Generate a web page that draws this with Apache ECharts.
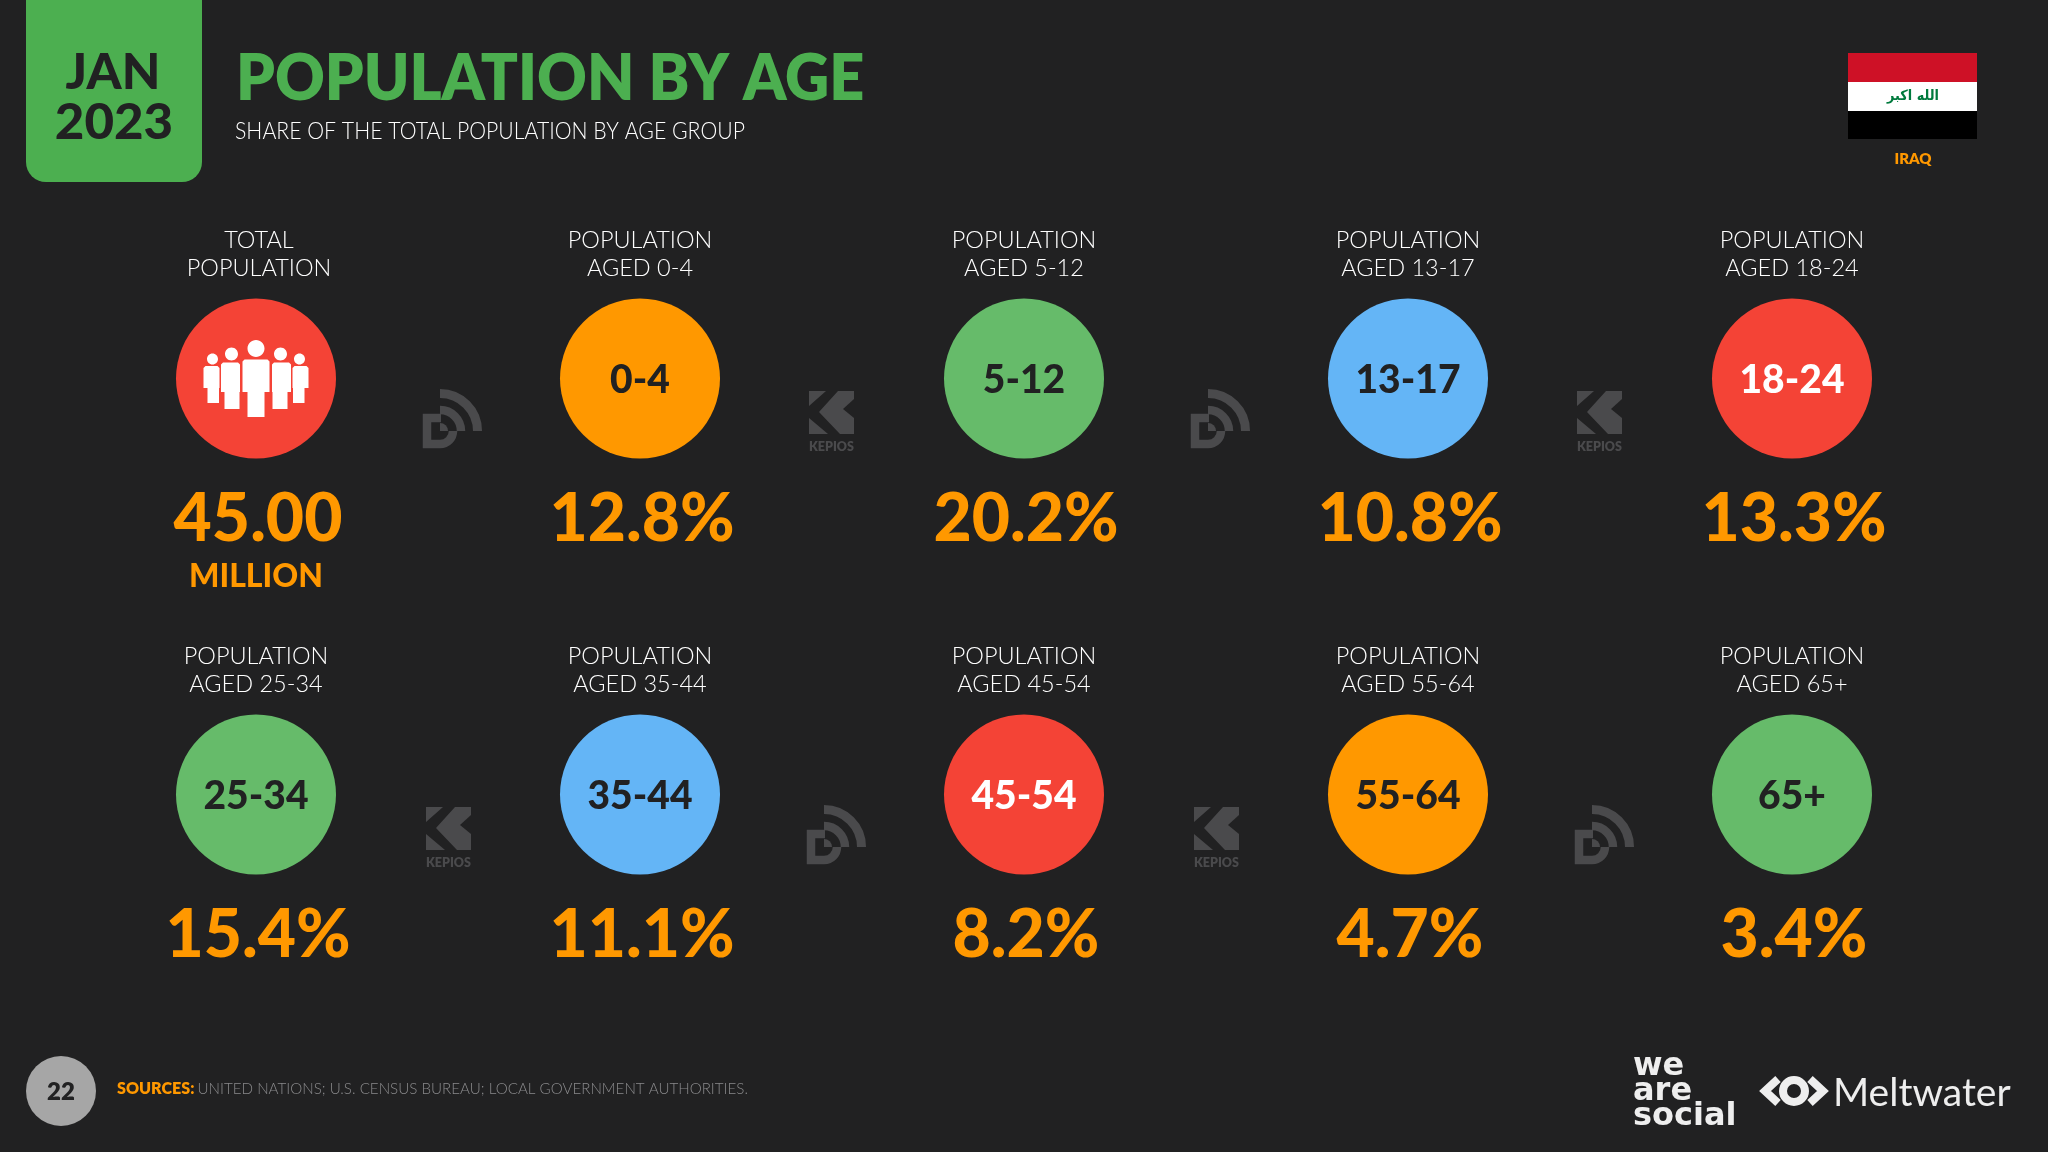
<!DOCTYPE html>
<html>
<head>
<meta charset="utf-8">
<title>Population by age</title>
<script src="https://cdn.jsdelivr.net/npm/echarts@6/dist/echarts.min.js"></script>
<style>
html, body { margin: 0; padding: 0; background: #212122; }
#main { width: 2048px; height: 1152px; }
</style>
</head>
<body>
<div id="main"></div>
<script>
const headings = [
	'TOTAL\nPOPULATION', 'POPULATION\nAGED 0-4', 'POPULATION\nAGED 5-12', 'POPULATION\nAGED 13-17', 'POPULATION\nAGED 18-24',
	'POPULATION\nAGED 25-34', 'POPULATION\nAGED 35-44', 'POPULATION\nAGED 45-54', 'POPULATION\nAGED 55-64', 'POPULATION\nAGED 65+'
]
const badges = ['', '0-4', '5-12', '13-17', '18-24', '25-34', '35-44', '45-54', '55-64', '65+']
const totalMillions = [45.00]
const shares = [12.8, 20.2, 10.8, 13.3, 15.4, 11.1, 8.2, 4.7, 3.4]
const units = ['MILLION']
const columns = ['c1', 'c2', 'c3', 'c4', 'c5']
const rows = ['r1', 'r2']

const RED = '#f44336', ORANGE = '#ff9800', GREEN = '#66bb6a', BLUE = '#64b5f6'
const badgeColours = [RED, ORANGE, GREEN, BLUE, RED, GREEN, BLUE, RED, ORANGE, GREEN]
const DARK = '#212122', MARK = '#4a4a4c'
const FONT = 'Lato'

// every cell sits on the category axes, 5 columns by 2 rows
const cell = i => [i % columns.length, Math.floor(i / columns.length)]
const valueTexts = totalMillions.map(v => v.toFixed(2)).concat(shares.map(v => v.toFixed(1) + '%'))

// group of five people, drawn in a 105x77 box
function head(cx, cy, r) {
	const k = r * 0.5523
	return 'M' + (cx - r) + ',' + cy +
		'C' + (cx - r) + ',' + (cy - k) + ',' + (cx - k) + ',' + (cy - r) + ',' + cx + ',' + (cy - r) +
		'C' + (cx + k) + ',' + (cy - r) + ',' + (cx + r) + ',' + (cy - k) + ',' + (cx + r) + ',' + cy +
		'C' + (cx + r) + ',' + (cy + k) + ',' + (cx + k) + ',' + (cy + r) + ',' + cx + ',' + (cy + r) +
		'C' + (cx - k) + ',' + (cy + r) + ',' + (cx - r) + ',' + (cy + k) + ',' + (cx - r) + ',' + cy + 'Z'
}
function figure(cx, headY, r, bodyL, bodyR, top, armY, legL, legR, footY) {
	return head(cx, headY, r) +
		'M' + (bodyL + 2) + ',' + top + 'L' + (bodyR - 2) + ',' + top + 'L' + bodyR + ',' + (top + 2) +
		'L' + bodyR + ',' + armY + 'L' + legR + ',' + armY + 'L' + legR + ',' + footY + 'L' + legL + ',' + footY +
		'L' + legL + ',' + armY + 'L' + bodyL + ',' + armY + 'L' + bodyL + ',' + (top + 2) + 'Z'
}
const peopleIcon = 'path://' +
	figure(9, 19, 5.5, 0, 16, 26, 48, 4, 15.5, 63) +
	figure(96, 19, 5.5, 89, 105, 26, 48, 89.5, 101, 63) +
	figure(28, 14, 6.5, 17.5, 36.5, 22.5, 52, 21, 36, 69) +
	figure(77, 14, 6.5, 68.5, 87.5, 22.5, 52, 69, 84, 69) +
	figure(52.5, 8.5, 8.5, 39, 66, 19.5, 52, 44, 61, 77)

function quarterArc(r, width, colour) {
	return { type: 'arc', shape: { cx: 0, cy: 0, r: r, startAngle: -Math.PI / 2, endAngle: 0, clockwise: true }, style: { fill: 'none', stroke: colour, lineWidth: width } }
}
function dataReportalMark(x, y) {
	return {
		type: 'group', x: x, y: y,
		children: [
			quarterArc(37.5, 9, MARK),
			quarterArc(21, 8.5, MARK),
			{ type: 'sector', shape: { cx: 0, cy: 0, r: 8, r0: 0, startAngle: -Math.PI / 2, endAngle: 0, clockwise: true }, style: { fill: MARK } },
			{ type: 'polyline', shape: { points: [[1, -13], [-13, -13], [-13, 13], [0, 13]] }, style: { fill: 'none', stroke: MARK, lineWidth: 8.5 } },
			{ type: 'arc', shape: { cx: 0, cy: 0, r: 13, startAngle: 0, endAngle: Math.PI / 2, clockwise: true }, style: { fill: 'none', stroke: MARK, lineWidth: 8.5 } }
		]
	}
}
function kepiosMark(x, y) {
	return {
		type: 'group', x: x, y: y,
		children: [
			{ type: 'rect', shape: { x: 0, y: 0, width: 45, height: 43 }, style: { fill: MARK } },
			{ type: 'polygon', shape: { points: [[17, 0], [29, 0], [10, 21], [31, 43], [19, 43], [0, 27], [0, 15]] }, style: { fill: DARK } },
			{ type: 'polygon', shape: { points: [[45, 8], [34, 18], [45, 27]] }, style: { fill: DARK } },
			{ type: 'text', x: 22.5, y: 56, style: { text: 'KEPIOS', fill: MARK, font: '800 12.5px ' + FONT, align: 'center', verticalAlign: 'middle' } }
		]
	}
}
function headerText(text, x, y, font, fill, align, scaleX) {
	return {
		type: 'text', x: x, y: y, scaleX: scaleX || 1,
		style: { text: text, font: font, fill: fill, align: align || 'left', verticalAlign: 'middle' }
	}
}

const chart = echarts.init(document.getElementById('main'))
const option = {
	backgroundColor: '#212122',
	animation: false,
	grid: { left: 64, top: 170.5, width: 1920, height: 832 },
	xAxis: { type: 'category', data: columns, show: false },
	yAxis: { type: 'category', data: rows, inverse: true, show: false },
	series: [
		{
			name: 'badges', type: 'scatter', symbolSize: 160,
			data: badges.map((b, i) => ({
				value: cell(i), name: b,
				itemStyle: { color: badgeColours[i], opacity: 1 },
				label: { color: badgeColours[i] === RED ? '#ffffff' : DARK }
			})),
			label: {
				show: true, position: 'inside', offset: [0, 2], formatter: p => p.name,
				fontFamily: FONT, fontWeight: 900, fontSize: 39
			}
		},
		{
			name: 'people', type: 'scatter', symbol: peopleIcon, symbolSize: [105, 77],
			itemStyle: { color: '#ffffff', opacity: 1 },
			data: [cell(0)], z: 4
		},
		{
			name: 'headings', type: 'scatter', symbolSize: 1,
			itemStyle: { color: 'transparent', opacity: 1 },
			data: headings.map((h, i) => ({
				value: cell(i), name: h,
				label: i === 0 ? { offset: [3, -124] } : undefined
			})),
			label: {
				show: true, position: 'inside', offset: [0, -124], formatter: p => p.name,
				fontFamily: FONT, fontWeight: 300, fontSize: 23.5, lineHeight: 28, color: '#ffffff', align: 'center'
			}
		},
		{
			name: 'values', type: 'scatter', symbolSize: 1,
			itemStyle: { color: 'transparent', opacity: 1 },
			data: valueTexts.map((v, i) => ({ value: cell(i), name: v })),
			label: {
				show: true, position: 'inside', offset: [2, 141], formatter: p => p.name,
				fontFamily: FONT, fontWeight: 900, fontSize: 66, color: ORANGE
			}
		},
		{
			name: 'unit', type: 'scatter', symbolSize: 1,
			itemStyle: { color: 'transparent', opacity: 1 },
			data: units.map((u, i) => ({ value: cell(i), name: u })),
			label: {
				show: true, position: 'inside', offset: [0, 198], formatter: p => p.name,
				fontFamily: FONT, fontWeight: 900, fontSize: 32, color: ORANGE
			}
		}
	],
	graphic: [
		// header tab
		{ type: 'rect', shape: { x: 26, y: -30, width: 176, height: 212, r: 20 }, style: { fill: '#4caf50' } },
		headerText('JAN', 113, 73, '900 50px ' + FONT, DARK, 'center', 1),
		headerText('2023', 114, 123, '900 50px ' + FONT, DARK, 'center', 1.02),
		headerText('POPULATION BY AGE', 236, 79, '800 64px ' + FONT, '#4caf50', 'left', 0.956),
		headerText('SHARE OF THE TOTAL POPULATION BY AGE GROUP', 235, 131, '300 24px ' + FONT, '#ffffff', 'left', 0.885),
		// flag
		{ type: 'rect', shape: { x: 1848, y: 53, width: 129, height: 29 }, style: { fill: '#ce1126' } },
		{ type: 'rect', shape: { x: 1848, y: 82, width: 129, height: 29 }, style: { fill: '#ffffff' } },
		{ type: 'rect', shape: { x: 1848, y: 111, width: 129, height: 28 }, style: { fill: '#000000' } },
		headerText('الله اكبر', 1913, 96, 'bold 14px "DejaVu Sans"', '#007a3d', 'center', 0.92),
		headerText('IRAQ', 1913, 159, '800 15px ' + FONT, ORANGE, 'center', 1),
		// watermarks
		dataReportalMark(440, 431),
		kepiosMark(809, 391),
		dataReportalMark(1208, 431),
		kepiosMark(1577, 391),
		kepiosMark(426, 807),
		dataReportalMark(824, 847),
		kepiosMark(1194, 807),
		dataReportalMark(1592, 847),
		// footer
		{ type: 'circle', shape: { cx: 61, cy: 1091, r: 35 }, style: { fill: '#a6a6a6' } },
		headerText('22', 61, 1092, '800 24px ' + FONT, DARK, 'center', 1),
		{
			type: 'text', x: 117, y: 1089, scaleX: 0.947,
			style: {
				text: '{a|SOURCES:} {b|UNITED NATIONS; U.S. CENSUS BUREAU; LOCAL GOVERNMENT AUTHORITIES.}',
				verticalAlign: 'middle',
				rich: {
					a: { font: '800 17px ' + FONT, fill: ORANGE },
					b: { font: '300 16px ' + FONT, fill: '#8a8a8c' }
				}
			}
		},
		{
			type: 'text', x: 1633, y: 1092,
			style: { text: 'we\nare\nsocial', font: 'bold 32px "DejaVu Sans"', fill: '#eeeeee', lineHeight: 25, verticalAlign: 'middle' }
		},
		{
			type: 'group', x: 1794, y: 1091,
			children: [
				{ type: 'polyline', shape: { points: [[-16, -12], [-29, 0], [-16, 12]] }, style: { fill: 'none', stroke: '#eeeeee', lineWidth: 8 } },
				{ type: 'polyline', shape: { points: [[16, -12], [29, 0], [16, 12]] }, style: { fill: 'none', stroke: '#eeeeee', lineWidth: 8 } },
				{ type: 'circle', shape: { cx: 0, cy: 0, r: 11 }, style: { fill: 'none', stroke: '#eeeeee', lineWidth: 8 } }
			]
		},
		headerText('Meltwater', 1833, 1093, '400 39px ' + FONT, '#eeeeee', 'left', 1)
	]
}
chart.setOption(option)
</script>
</body>
</html>
